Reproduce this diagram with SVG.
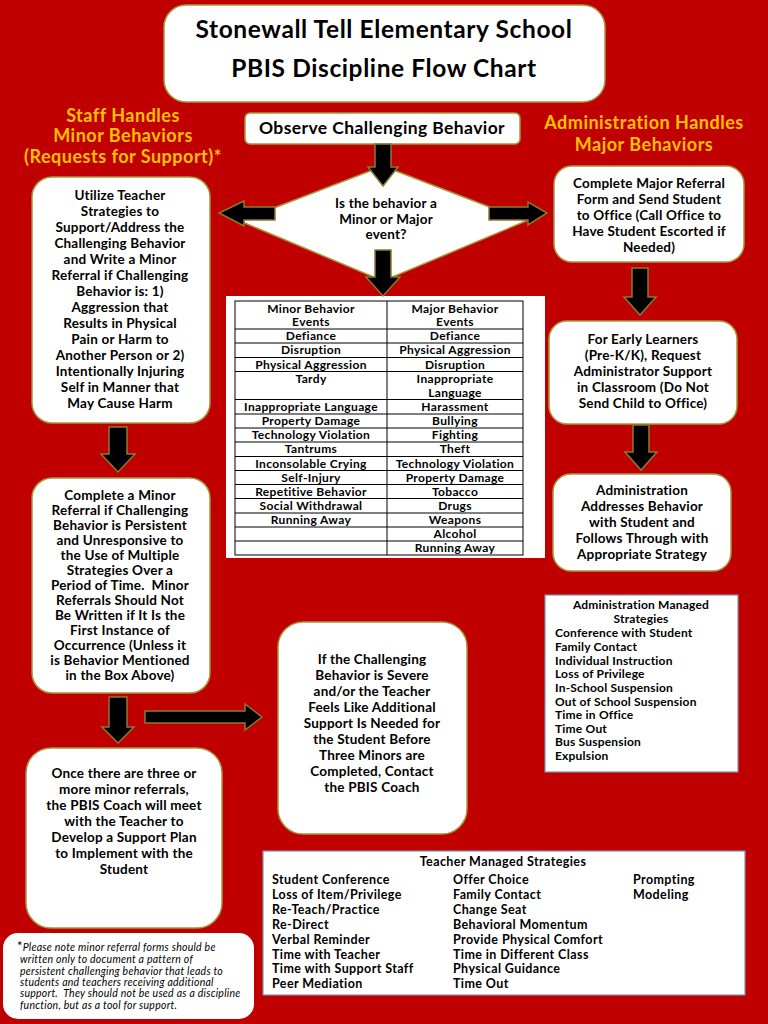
<svg xmlns="http://www.w3.org/2000/svg" width="768" height="1024" viewBox="0 0 768 1024">
<style>
.box{fill:#fff;stroke:#a8953c;stroke-width:1.5}
.panel{fill:#fff;stroke:#8090a8;stroke-width:1.2}
.arr{fill:#000;stroke:#8a7a30;stroke-width:1.5;stroke-linejoin:miter}
text{font-family:Lato,"Liberation Sans",sans-serif;font-weight:bold;fill:#000;white-space:pre}
.c{text-anchor:middle;font-size:13.5px;letter-spacing:0.2px}
.h{text-anchor:middle;font-size:18px;letter-spacing:0.5px;fill:#ffc000}
.t{text-anchor:middle;font-size:12px;letter-spacing:0.35px}
.grid{stroke:#000;stroke-width:1;fill:none}
.s{font-size:12px;letter-spacing:0.2px}
.tm{font-size:12.5px;letter-spacing:0.4px}
.fn{font-size:10.5px;font-style:italic;font-weight:normal;letter-spacing:0.25px}
</style>
<rect x="0" y="0" width="768" height="1024" fill="#c00000"/>

<g id="title">
<rect class="box" x="164" y="5" width="441" height="97" rx="22"/>
<text x="384" y="38" text-anchor="middle" font-size="24.5" letter-spacing="0.6">Stonewall Tell Elementary School</text>
<text x="384" y="77" text-anchor="middle" font-size="24.5" letter-spacing="0.6">PBIS Discipline Flow Chart</text>
</g>

<g id="staff-label">
<text class="h" x="123" y="122">Staff Handles</text>
<text class="h" x="123" y="142">Minor Behaviors</text>
<text class="h" x="123" y="163">(Requests for Support)*</text>
</g>

<g id="admin-label">
<text class="h" x="644" y="129">Administration Handles</text>
<text class="h" x="644" y="151">Major Behaviors</text>
</g>

<g id="observe">
<rect class="box" x="245" y="113" width="275" height="31" rx="5"/>
<text x="382" y="134" text-anchor="middle" font-size="17.5" letter-spacing="0.4">Observe Challenging Behavior</text>
</g>

<g id="decision">
<polygon class="box" points="383,166 526,221 383,281 240,221"/>
<text class="c" x="386" y="208" font-size="12.5">Is the behavior a</text>
<text class="c" x="386" y="224" font-size="12.5">Minor or Major</text>
<text class="c" x="386" y="239" font-size="12.5">event?</text>
</g>

<g id="behavior-table">
<rect x="226" y="296" width="319" height="262" fill="#fff"/>
<rect class="grid" x="235" y="301" width="288" height="254"/>
<line class="grid" x1="387" y1="301" x2="387" y2="555"/>
<path class="grid" d="M235 329H523M235 343H523M235 357.5H523M235 371.5H523M235 399.5H523M235 414H523M235 428H523M235 442H523M235 456.5H523M235 470.5H523M235 484.5H523M235 498.5H523M235 513H523M235 527H523M235 541H523"/>
<text class="t" x="311" y="313">Minor Behavior</text>
<text class="t" x="311" y="326">Events</text>
<text class="t" x="455" y="313">Major Behavior</text>
<text class="t" x="455" y="326">Events</text>
<text class="t" x="311" y="340">Defiance</text>
<text class="t" x="455" y="340">Defiance</text>
<text class="t" x="311" y="354">Disruption</text>
<text class="t" x="455" y="354">Physical Aggression</text>
<text class="t" x="311" y="368.5">Physical Aggression</text>
<text class="t" x="455" y="368.5">Disruption</text>
<text class="t" x="311" y="382.5">Tardy</text>
<text class="t" x="455" y="382.5">Inappropriate</text>
<text class="t" x="455" y="396.5">Language</text>
<text class="t" x="311" y="410.5">Inappropriate Language</text>
<text class="t" x="455" y="410.5">Harassment</text>
<text class="t" x="311" y="425">Property Damage</text>
<text class="t" x="455" y="425">Bullying</text>
<text class="t" x="311" y="439">Technology Violation</text>
<text class="t" x="455" y="439">Fighting</text>
<text class="t" x="311" y="453">Tantrums</text>
<text class="t" x="455" y="453">Theft</text>
<text class="t" x="311" y="467.5">Inconsolable Crying</text>
<text class="t" x="455" y="467.5">Technology Violation</text>
<text class="t" x="311" y="481.5">Self-Injury</text>
<text class="t" x="455" y="481.5">Property Damage</text>
<text class="t" x="311" y="495.5">Repetitive Behavior</text>
<text class="t" x="455" y="495.5">Tobacco</text>
<text class="t" x="311" y="509.5">Social Withdrawal</text>
<text class="t" x="455" y="509.5">Drugs</text>
<text class="t" x="311" y="524">Running Away</text>
<text class="t" x="455" y="524">Weapons</text>
<text class="t" x="455" y="538">Alcohol</text>
<text class="t" x="455" y="552">Running Away</text>
</g>

<g id="minor-strategies">
<rect class="box" x="32" y="177" width="178" height="246" rx="20"/>
<text class="c" x="120" y="200">Utilize Teacher</text>
<text class="c" x="120" y="216">Strategies to</text>
<text class="c" x="120" y="232">Support/Address the</text>
<text class="c" x="120" y="248">Challenging Behavior</text>
<text class="c" x="120" y="264">and Write a Minor</text>
<text class="c" x="120" y="280">Referral if Challenging</text>
<text class="c" x="120" y="296">Behavior is: 1)</text>
<text class="c" x="120" y="312">Aggression that</text>
<text class="c" x="120" y="328">Results in Physical</text>
<text class="c" x="120" y="344">Pain or Harm to</text>
<text class="c" x="120" y="360">Another Person or 2)</text>
<text class="c" x="120" y="376">Intentionally Injuring</text>
<text class="c" x="120" y="392">Self in Manner that</text>
<text class="c" x="120" y="408">May Cause Harm</text>
</g>

<g id="minor-referral">
<rect class="box" x="32" y="478" width="178" height="215" rx="20"/>
<text class="c" x="120" y="500">Complete a Minor</text>
<text class="c" x="120" y="515">Referral if Challenging</text>
<text class="c" x="120" y="530">Behavior is Persistent</text>
<text class="c" x="120" y="545">and Unresponsive to</text>
<text class="c" x="120" y="560">the Use of Multiple</text>
<text class="c" x="120" y="575">Strategies Over a</text>
<text class="c" x="120" y="590">Period of Time.  Minor</text>
<text class="c" x="120" y="605">Referrals Should Not</text>
<text class="c" x="120" y="620">Be Written if It Is the</text>
<text class="c" x="120" y="635">First Instance of</text>
<text class="c" x="120" y="650">Occurrence (Unless it</text>
<text class="c" x="120" y="665">is Behavior Mentioned</text>
<text class="c" x="120" y="680">in the Box Above)</text>
</g>

<g id="pbis-coach-meeting">
<rect class="box" x="26" y="748" width="196" height="180" rx="25"/>
<text class="c" x="124" y="778">Once there are three or</text>
<text class="c" x="124" y="794">more minor referrals,</text>
<text class="c" x="124" y="810">the PBIS Coach will meet</text>
<text class="c" x="124" y="826">with the Teacher to</text>
<text class="c" x="124" y="842">Develop a Support Plan</text>
<text class="c" x="124" y="858">to Implement with the</text>
<text class="c" x="124" y="874">Student</text>
</g>

<g id="contact-coach">
<rect class="box" x="278" y="622" width="189" height="212" rx="25"/>
<text class="c" x="372" y="664">If the Challenging</text>
<text class="c" x="372" y="680">Behavior is Severe</text>
<text class="c" x="372" y="696">and/or the Teacher</text>
<text class="c" x="372" y="712">Feels Like Additional</text>
<text class="c" x="372" y="728">Support Is Needed for</text>
<text class="c" x="372" y="744">the Student Before</text>
<text class="c" x="372" y="760">Three Minors are</text>
<text class="c" x="372" y="776">Completed, Contact</text>
<text class="c" x="372" y="792">the PBIS Coach</text>
</g>

<g id="major-referral">
<rect class="box" x="554" y="166" width="190" height="96" rx="18"/>
<text class="c" x="649" y="188">Complete Major Referral</text>
<text class="c" x="649" y="204">Form and Send Student</text>
<text class="c" x="649" y="220">to Office (Call Office to</text>
<text class="c" x="649" y="236">Have Student Escorted if</text>
<text class="c" x="649" y="252">Needed)</text>
</g>

<g id="early-learners">
<rect class="box" x="549" y="321" width="188" height="103" rx="18"/>
<text class="c" x="643" y="344">For Early Learners</text>
<text class="c" x="643" y="360">(Pre-K/K), Request</text>
<text class="c" x="643" y="376">Administrator Support</text>
<text class="c" x="643" y="392">in Classroom (Do Not</text>
<text class="c" x="643" y="408">Send Child to Office)</text>
</g>

<g id="admin-addresses">
<rect class="box" x="553" y="474" width="178" height="97" rx="18"/>
<text class="c" x="642" y="495">Administration</text>
<text class="c" x="642" y="511">Addresses Behavior</text>
<text class="c" x="642" y="527">with Student and</text>
<text class="c" x="642" y="543">Follows Through with</text>
<text class="c" x="642" y="559">Appropriate Strategy</text>
</g>

<g id="admin-strategies">
<rect class="panel" x="545" y="595" width="193" height="177"/>
<text class="s" x="641" y="609" text-anchor="middle">Administration Managed</text>
<text class="s" x="641" y="623" text-anchor="middle">Strategies</text>
<text class="s" x="555" y="637">Conference with Student</text>
<text class="s" x="555" y="651">Family Contact</text>
<text class="s" x="555" y="665">Individual Instruction</text>
<text class="s" x="555" y="678">Loss of Privilege</text>
<text class="s" x="555" y="692">In-School Suspension</text>
<text class="s" x="555" y="706">Out of School Suspension</text>
<text class="s" x="555" y="719">Time in Office</text>
<text class="s" x="555" y="733">Time Out</text>
<text class="s" x="555" y="746">Bus Suspension</text>
<text class="s" x="555" y="760">Expulsion</text>
</g>

<g id="teacher-strategies">
<rect class="panel" x="263" y="851" width="482" height="144"/>
<text class="tm" x="503" y="866" text-anchor="middle">Teacher Managed Strategies</text>
<text class="tm" x="272" y="884">Student Conference</text>
<text class="tm" x="272" y="899">Loss of Item/Privilege</text>
<text class="tm" x="272" y="914">Re-Teach/Practice</text>
<text class="tm" x="272" y="929">Re-Direct</text>
<text class="tm" x="272" y="944">Verbal Reminder</text>
<text class="tm" x="272" y="959">Time with Teacher</text>
<text class="tm" x="272" y="973">Time with Support Staff</text>
<text class="tm" x="272" y="988">Peer Mediation</text>
<text class="tm" x="453" y="884">Offer Choice</text>
<text class="tm" x="453" y="899">Family Contact</text>
<text class="tm" x="453" y="914">Change Seat</text>
<text class="tm" x="453" y="929">Behavioral Momentum</text>
<text class="tm" x="453" y="944">Provide Physical Comfort</text>
<text class="tm" x="453" y="959">Time in Different Class</text>
<text class="tm" x="453" y="973">Physical Guidance</text>
<text class="tm" x="453" y="988">Time Out</text>
<text class="tm" x="633" y="884">Prompting</text>
<text class="tm" x="633" y="899">Modeling</text>
</g>

<g id="footnote">
<rect x="3" y="933" width="251" height="86" rx="15" fill="#fff"/>
<text class="fn" x="17" y="951"><tspan font-size="13" font-style="normal">*</tspan>Please note minor referral forms should be</text>
<text class="fn" x="20" y="963">written only to document a pattern of</text>
<text class="fn" x="20" y="975">persistent challenging behavior that leads to</text>
<text class="fn" x="20" y="986">students and teachers receiving additional</text>
<text class="fn" x="20" y="997">support.  They should not be used as a discipline</text>
<text class="fn" x="20" y="1009">function, but as a tool for support.</text>
</g>

<g id="connectors">
<polygon class="arr" points="375,144 391,144 391,167 398,167 383,186 368,167 375,167"/>
<polygon class="arr" points="375,250 391,250 391,277 400,277 383,296 366,277 375,277"/>
<polygon class="arr" points="275,207 275,220 244,220 244,226 219,213 244,201 244,207"/>
<polygon class="arr" points="489,207 528,207 528,202 547,213 528,225 528,220 489,220"/>
<polygon class="arr" points="632,268 648,268 648,297 656,297 640,315 624,297 632,297"/>
<polygon class="arr" points="633,425 649,425 649,452 657,452 641,470 625,452 633,452"/>
<polygon class="arr" points="109,427 127,427 127,454 135,454 118,472 101,454 109,454"/>
<polygon class="arr" points="109,697 127,697 127,727 134,727 118,743 102,727 109,727"/>
<polygon class="arr" points="145,711 245,711 245,704 262,717 245,730 245,723 145,723"/>
</g>
</svg>
